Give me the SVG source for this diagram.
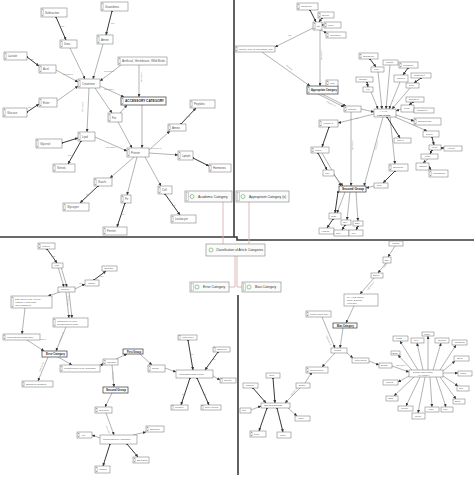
<svg xmlns="http://www.w3.org/2000/svg" width="474" height="479" viewBox="0 0 474 479">
<defs>
<marker id="a" viewBox="0 0 4 4" refX="4" refY="2" markerWidth="3" markerHeight="3" markerUnits="userSpaceOnUse" orient="auto"><path d="M0,0L4,2L0,4z" fill="#333"/></marker>
<marker id="d" viewBox="0 0 4 4" refX="2" refY="2" markerWidth="2.2" markerHeight="2.2" markerUnits="userSpaceOnUse"><circle cx="2" cy="2" r="1.8" fill="#222"/></marker>
<style>
.n rect.b{fill:#fff;stroke:#7a7a7a;stroke-width:0.55}
.n rect.i{fill:none;stroke:#999;stroke-width:0.35}
.n text{font-family:"Liberation Sans",Arial,sans-serif;font-size:2.8px;fill:#555}
.n.s text{font-size:2.4px}
.n.k rect.b{stroke:#444;stroke-width:0.75}
.n.k text{font-weight:bold;fill:#222;font-size:3px}
.e line{stroke:#555;stroke-width:0.45;marker-end:url(#a)}
.e line.t{stroke:#222;stroke-width:0.9;marker-start:url(#d)}
.e text{font-family:"Liberation Sans",Arial,sans-serif;font-size:2px;fill:#888}
.dv{stroke:#3a3a3a;stroke-width:1.6;fill:none}
.c rect.b{fill:#fbfbfb;stroke:#8a8a8a;stroke-width:0.65}
.c rect.i{fill:none;stroke:#999;stroke-width:0.4}
.c circle{fill:none;stroke:#5a5;stroke-width:0.6}
.c text{font-family:"Liberation Sans",Arial,sans-serif;font-size:3.4px;fill:#333}
.p line,.p polyline{stroke:#d9b2b2;stroke-width:0.9;fill:none}
</style>
</defs>
<rect width="474" height="479" fill="#fff"/>

<g id="dividers">
<path class="dv" d="M234,0V237H0"/>
<path class="dv" d="M234,237H237V240H474"/>
<path class="dv" d="M238,295V475"/>
</g>

<g id="connectors">
<g class="p">
<line x1="223" y1="202" x2="223" y2="244"/>
<line x1="249" y1="202" x2="249" y2="244"/>
<polyline points="235,256 235,287 229,287"/>
<polyline points="237,256 237,287 242,287"/>
</g>
<g class="e">
<line class="t" x1="56" y1="17" x2="66" y2="40"/>
<line class="t" x1="112" y1="11" x2="106" y2="35"/>
<line x1="70" y1="48" x2="85" y2="79"/>
<line x1="103" y1="44" x2="93" y2="79"/>
<line class="t" x1="27" y1="57" x2="39" y2="66"/>
<line x1="56" y1="70" x2="78" y2="82"/>
<line x1="121" y1="65" x2="100" y2="81"/>
<line x1="100" y1="86" x2="124" y2="97"/>
<line x1="139" y1="65" x2="139" y2="97"/>
<line x1="95" y1="88" x2="112" y2="113"/>
<line x1="120" y1="113" x2="127" y2="105"/>
<line x1="89" y1="88" x2="87" y2="132"/>
<line x1="57" y1="101" x2="78" y2="86"/>
<line class="t" x1="27" y1="112" x2="39" y2="104"/>
<line x1="95" y1="137" x2="127" y2="151"/>
<line x1="118" y1="122" x2="132" y2="148"/>
<line x1="142" y1="105" x2="142" y2="148"/>
<line class="t" x1="62" y1="143" x2="78" y2="138"/>
<line class="t" x1="81" y1="141" x2="68" y2="164"/>
<line x1="149" y1="150" x2="170" y2="131"/>
<line class="t" x1="181" y1="124" x2="196" y2="108"/>
<line x1="149" y1="153" x2="178" y2="155"/>
<line class="t" x1="193" y1="158" x2="209" y2="166"/>
<line x1="145" y1="157" x2="161" y2="186"/>
<line class="t" x1="165" y1="194" x2="180" y2="215"/>
<line x1="134" y1="157" x2="110" y2="178"/>
<line class="t" x1="98" y1="186" x2="80" y2="203"/>
<line x1="137" y1="157" x2="127" y2="195"/>
<line class="t" x1="125" y1="203" x2="117" y2="227"/>
<text x="61" y="27">has</text><text x="111" y="24">has</text><text x="30" y="60">has</text><text x="28" y="108">has</text>
<text x="68" y="156">has</text><text x="86" y="195">has</text><text x="121" y="215">has</text><text x="187" y="117">has</text>
<text x="198" y="162">x</text><text x="172" y="206">has</text>
<text x="63" y="75">subclass of</text><text x="104" y="72">subclass of</text><text x="104" y="90">subclass of</text>
<text x="83" y="112" transform="rotate(-88 83 112)">subclass of</text><text x="106" y="148">subclass of</text>
<text x="150" y="149">Proportion of</text><text x="142" y="82" transform="rotate(-90 142 82)">subclass of</text>
<line class="t" x1="310" y1="10" x2="316" y2="22"/>
<line class="t" x1="322" y1="18" x2="319" y2="22"/>
<line x1="322" y1="25" x2="324" y2="25"/>
<line x1="320" y1="30" x2="327" y2="33"/>
<line x1="313" y1="28" x2="275" y2="47"/>
<line x1="320" y1="30" x2="320" y2="86"/>
<line x1="262" y1="52" x2="310" y2="86"/>
<line x1="318" y1="94" x2="344" y2="107"/>
<line x1="322" y1="94" x2="346" y2="106"/>
<line x1="361" y1="109" x2="374" y2="112"/>
<line x1="374" y1="114" x2="338" y2="123"/>
<line class="t" x1="329" y1="127" x2="322" y2="147"/>
<line x1="351" y1="112" x2="351" y2="186"/>
<line x1="383" y1="117" x2="364" y2="186"/>
<line x1="322" y1="153" x2="341" y2="186"/>
<line class="t" x1="318" y1="153" x2="327" y2="170"/>
<line x1="334" y1="175" x2="343" y2="186"/>
<line class="t" x1="395" y1="171" x2="383" y2="183"/>
<line x1="374" y1="186" x2="366" y2="188"/>
<line x1="390" y1="117" x2="395" y2="164"/>
<line class="t" x1="429" y1="167" x2="431" y2="170"/>
<line x1="428" y1="159" x2="423" y2="163"/>
<line class="t" x1="370" y1="59" x2="376" y2="67"/>
<line x1="378" y1="72" x2="382" y2="109"/>
<line x1="390" y1="65" x2="386" y2="109"/>
<line class="t" x1="408" y1="68" x2="403" y2="75"/>
<line x1="400" y1="82" x2="389" y2="109"/>
<line class="t" x1="421" y1="78" x2="414" y2="83"/>
<line x1="410" y1="88" x2="392" y2="109"/>
<line class="t" x1="367" y1="82" x2="368" y2="87"/>
<line x1="371" y1="92" x2="378" y2="109"/>
<line class="t" x1="413" y1="102" x2="409" y2="105"/>
<line class="t" x1="420" y1="110" x2="414" y2="109"/>
<line x1="401" y1="109" x2="396" y2="111"/>
<line x1="396" y1="115" x2="414" y2="121"/>
<line x1="395" y1="117" x2="427" y2="131"/>
<line class="t" x1="432" y1="137" x2="434" y2="145"/>
<line class="t" x1="441" y1="148" x2="444" y2="148"/>
<line class="t" x1="432" y1="150" x2="430" y2="154"/>
<line class="t" x1="387" y1="117" x2="400" y2="138"/>
<line class="t" x1="338" y1="192" x2="335" y2="213"/>
<line x1="345" y1="192" x2="337" y2="213"/>
<line x1="350" y1="192" x2="347" y2="220"/>
<line x1="356" y1="192" x2="358" y2="221"/>
<line class="t" x1="333" y1="219" x2="327" y2="228"/>
<line class="t" x1="345" y1="225" x2="342" y2="230"/>
<line class="t" x1="358" y1="226" x2="356" y2="230"/>
<text x="322" y="60" transform="rotate(-90 322 60)">subclass of</text>
<text x="286" y="66" transform="rotate(35 286 66)">Pathway</text>
<text x="288" y="36">has</text>
<text x="326" y="102" transform="rotate(27 326 102)">subclass of</text>
<text x="353" y="150" transform="rotate(-90 353 150)">subclass of</text>
<text x="376" y="150" transform="rotate(-75 376 150)">subclass of</text>
<text x="355" y="119">has</text>
<line class="t" x1="47" y1="249" x2="57" y2="263"/>
<line x1="58" y1="267" x2="64" y2="287"/>
<line x1="61" y1="267" x2="67" y2="287"/>
<line x1="75" y1="289" x2="85" y2="284"/>
<line class="t" x1="94" y1="280" x2="106" y2="271"/>
<line x1="60" y1="292" x2="48" y2="296"/>
<line x1="66" y1="292" x2="69" y2="318"/>
<line x1="69" y1="292" x2="72" y2="318"/>
<line x1="25" y1="308" x2="22" y2="334"/>
<line x1="66" y1="327" x2="56" y2="351"/>
<line x1="27" y1="340" x2="44" y2="351"/>
<line x1="48" y1="357" x2="38" y2="381"/>
<line x1="58" y1="357" x2="72" y2="365"/>
<line x1="100" y1="367" x2="103" y2="363"/>
<line x1="116" y1="359" x2="127" y2="354"/>
<line x1="140" y1="354" x2="152" y2="365"/>
<line x1="112" y1="365" x2="114" y2="387"/>
<line x1="112" y1="393" x2="105" y2="407"/>
<line x1="106" y1="413" x2="114" y2="435"/>
<line x1="100" y1="438" x2="92" y2="435"/>
<line x1="133" y1="435" x2="146" y2="432"/>
<line class="t" x1="110" y1="444" x2="103" y2="466"/>
<line class="t" x1="127" y1="444" x2="138" y2="457"/>
<line x1="165" y1="368" x2="176" y2="372"/>
<line class="t" x1="188" y1="340" x2="193" y2="370"/>
<line class="t" x1="218" y1="352" x2="205" y2="370"/>
<line x1="213" y1="376" x2="220" y2="380"/>
<line class="t" x1="190" y1="378" x2="181" y2="405"/>
<line class="t" x1="197" y1="378" x2="209" y2="405"/>
<text x="52" y="257">has</text><text x="79" y="284">has</text><text x="100" y="277">has</text>
<text x="68" y="306" transform="rotate(-85 68 306)">subclass of</text>
<text x="36" y="340">subclass of</text><text x="60" y="342" transform="rotate(-67 60 342)">subclass of</text>
<text x="40" y="372" transform="rotate(-67 40 372)">subclass of</text><text x="113" y="380" transform="rotate(-85 113 380)">subclass</text>
<text x="106" y="426" transform="rotate(70 106 426)">subclass of</text>
<text x="190" y="355">has</text><text x="212" y="360">has</text><text x="182" y="395">has</text><text x="203" y="395">has</text>
<line x1="395" y1="246" x2="388" y2="257"/>
<line x1="386" y1="263" x2="378" y2="273"/>
<line x1="374" y1="278" x2="360" y2="294"/>
<line x1="354" y1="306" x2="346" y2="323"/>
<line x1="322" y1="317" x2="335" y2="348"/>
<line x1="343" y1="328" x2="340" y2="348"/>
<line x1="335" y1="353" x2="322" y2="367"/>
<line x1="347" y1="353" x2="353" y2="358"/>
<line x1="369" y1="361" x2="379" y2="365"/>
<line x1="392" y1="366" x2="409" y2="372"/>
<line x1="418" y1="370" x2="400" y2="341"/>
<line x1="423" y1="370" x2="417" y2="343"/>
<line x1="428" y1="370" x2="428" y2="336"/>
<line x1="433" y1="370" x2="441" y2="343"/>
<line x1="440" y1="370" x2="456" y2="345"/>
<line x1="412" y1="370" x2="398" y2="355"/>
<line x1="443" y1="371" x2="455" y2="361"/>
<line x1="443" y1="373" x2="458" y2="373"/>
<line x1="443" y1="376" x2="458" y2="386"/>
<line x1="409" y1="376" x2="398" y2="382"/>
<line x1="414" y1="377" x2="394" y2="396"/>
<line x1="440" y1="377" x2="456" y2="399"/>
<line x1="420" y1="377" x2="406" y2="406"/>
<line x1="425" y1="377" x2="418" y2="413"/>
<line x1="430" y1="377" x2="432" y2="407"/>
<line x1="436" y1="377" x2="446" y2="407"/>
<line class="t" x1="273" y1="378" x2="275" y2="403"/>
<line class="t" x1="253" y1="388" x2="266" y2="403"/>
<line x1="300" y1="388" x2="285" y2="403"/>
<line x1="251" y1="410" x2="261" y2="406"/>
<line class="t" x1="267" y1="408" x2="259" y2="431"/>
<line class="t" x1="277" y1="408" x2="283" y2="432"/>
<line x1="288" y1="408" x2="297" y2="416"/>
<line x1="305" y1="383" x2="312" y2="372"/>
<text x="384" y="268" transform="rotate(-55 384 268)">subclass of</text>
<text x="368" y="290" transform="rotate(-50 368 290)">subclass of</text>
<text x="326" y="336" transform="rotate(67 326 336)">subclass of</text>
<text x="396" y="366">subclass of</text>
<text x="291" y="396" transform="rotate(-48 291 396)">subclass of</text>
</g>
</g>

<g id="academic" class="c"><rect class="b" x="185" y="191" width="47" height="11"/><rect class="i" x="186.2" y="192.2" width="2" height="8.6"/><circle cx="192" cy="196.5" r="2"/><text x="198" y="197.8">Academic Category</text></g>
<g id="appropriate" class="c"><rect class="b" x="236" y="191" width="53" height="11"/><rect class="i" x="237.2" y="192.2" width="2" height="8.6"/><circle cx="243" cy="196.5" r="2"/><text x="249" y="197.8">Appropriate Category (x)</text></g>
<g id="classification" class="c"><rect class="b" x="206" y="244" width="59" height="12"/><circle cx="211" cy="250" r="2"/><text x="216" y="251.3" textLength="47" lengthAdjust="spacingAndGlyphs">Classification of Article Categories</text></g>
<g id="error" class="c"><rect class="b" x="190" y="282" width="39" height="10"/><rect class="i" x="191.2" y="283.2" width="2" height="7.6"/><circle cx="197" cy="287" r="2"/><text x="203" y="288.3">Error Category</text></g>
<g id="bias" class="c"><rect class="b" x="242" y="282" width="39" height="10"/><rect class="i" x="243.2" y="283.2" width="2" height="7.6"/><circle cx="249" cy="287" r="2"/><text x="255" y="288.3">Bias Category</text></g>

<g id="n1" class="n"><rect class="b" x="41" y="8" width="26" height="9"/><rect class="i" x="42" y="9" width="1.8" height="7"/><text x="45" y="13.5">Subtraction</text></g>
<g id="n2" class="n"><rect class="b" x="101" y="2" width="27" height="9"/><rect class="i" x="102" y="3" width="1.8" height="7"/><text x="105" y="7.5">Guanidines</text></g>
<g id="n3" class="n"><rect class="b" x="60" y="40" width="17" height="8"/><rect class="i" x="61" y="41" width="1.8" height="6"/><text x="64" y="45">Urea</text></g>
<g id="n4" class="n"><rect class="b" x="97" y="35" width="16" height="9"/><rect class="i" x="98" y="36" width="1.8" height="7"/><text x="101" y="40.5">Amine</text></g>
<g id="n5" class="n"><rect class="b" x="4" y="52" width="23" height="8"/><rect class="i" x="5" y="53" width="1.8" height="6"/><text x="8" y="57">Lactate</text></g>
<g id="n6" class="n"><rect class="b" x="39" y="65" width="17" height="8"/><rect class="i" x="40" y="66" width="1.8" height="6"/><text x="43" y="70">Acid</text></g>
<g id="n7" class="n"><rect class="b" x="78" y="79" width="22" height="9"/><rect class="i" x="79" y="80" width="1.8" height="7"/><text x="82" y="84.5">Creatinine</text></g>
<g id="n8" class="n"><rect class="b" x="118" y="57" width="49" height="8"/><rect class="i" x="119" y="58" width="1.8" height="6"/><text x="122" y="62" textLength="43" lengthAdjust="spacingAndGlyphs">Artificial, Vertebrate, Wild Birds</text></g>
<g id="n9" class="n k"><rect class="b" x="121" y="97" width="45" height="8"/><rect class="i" x="122" y="98" width="1.8" height="6"/><text x="125" y="102.2" textLength="39" lengthAdjust="spacingAndGlyphs">ACCESSORY CATEGORY</text></g>
<g id="n10" class="n"><rect class="b" x="39" y="98" width="18" height="9"/><rect class="i" x="40" y="99" width="1.8" height="7"/><text x="43" y="103.5">Ester</text></g>
<g id="n11" class="n"><rect class="b" x="3" y="108" width="24" height="9"/><rect class="i" x="4" y="109" width="1.8" height="7"/><text x="7" y="113.5">Glucose</text></g>
<g id="n12" class="n"><rect class="b" x="108" y="113" width="14" height="9"/><rect class="i" x="109" y="114" width="1.8" height="7"/><text x="112" y="118.5">Fat</text></g>
<g id="n13" class="n"><rect class="b" x="78" y="132" width="17" height="9"/><rect class="i" x="79" y="133" width="1.8" height="7"/><text x="82" y="137.5">Lipid</text></g>
<g id="n14" class="n"><rect class="b" x="36" y="139" width="26" height="9"/><rect class="i" x="37" y="140" width="1.8" height="7"/><text x="40" y="144.5">Glycerol</text></g>
<g id="n15" class="n"><rect class="b" x="127" y="148" width="22" height="9"/><rect class="i" x="128" y="149" width="1.8" height="7"/><text x="131" y="153.5">Protein</text></g>
<g id="n16" class="n"><rect class="b" x="190" y="100" width="25" height="8"/><rect class="i" x="191" y="101" width="1.8" height="6"/><text x="194" y="105">Peptides</text></g>
<g id="n17" class="n"><rect class="b" x="168" y="124" width="18" height="7"/><rect class="i" x="169" y="125" width="1.8" height="5"/><text x="172" y="128.6">Amino</text></g>
<g id="n18" class="n"><rect class="b" x="178" y="151" width="15" height="9"/><rect class="i" x="179" y="152" width="1.8" height="7"/><text x="182" y="156.5">Lymph</text></g>
<g id="n19" class="n"><rect class="b" x="209" y="164" width="22" height="8"/><rect class="i" x="210" y="165" width="1.8" height="6"/><text x="213" y="169">Hormones</text></g>
<g id="n20" class="n"><rect class="b" x="158" y="186" width="14" height="8"/><rect class="i" x="159" y="187" width="1.8" height="6"/><text x="162" y="191">Cell</text></g>
<g id="n21" class="n"><rect class="b" x="171" y="215" width="25" height="8"/><rect class="i" x="172" y="216" width="1.8" height="6"/><text x="175" y="220">Leukocyte</text></g>
<g id="n22" class="n"><rect class="b" x="53" y="164" width="22" height="8"/><rect class="i" x="54" y="165" width="1.8" height="6"/><text x="57" y="169">Sterols</text></g>
<g id="n23" class="n"><rect class="b" x="94" y="178" width="18" height="8"/><rect class="i" x="95" y="179" width="1.8" height="6"/><text x="98" y="183">Starch</text></g>
<g id="n24" class="n"><rect class="b" x="63" y="203" width="26" height="8"/><rect class="i" x="64" y="204" width="1.8" height="6"/><text x="67" y="208">Glycogen</text></g>
<g id="n25" class="n"><rect class="b" x="121" y="195" width="10" height="8"/><rect class="i" x="122" y="196" width="1.8" height="6"/><text x="125" y="200">Fe</text></g>
<g id="n26" class="n"><rect class="b" x="103" y="227" width="24" height="8"/><rect class="i" x="104" y="228" width="1.8" height="6"/><text x="107" y="232">Ferritin</text></g>

<g id="m1" class="n s"><rect class="b" x="297" y="3" width="21" height="7"/><rect class="i" x="298" y="4" width="1.6" height="5"/><text x="301" y="7.4">Creatinine</text></g>
<g id="m2" class="n s"><rect class="b" x="318" y="12" width="16" height="6"/><rect class="i" x="319" y="13" width="1.6" height="4"/><text x="322" y="16">Serum</text></g>
<g id="m3" class="n s"><rect class="b" x="313" y="22" width="9" height="8"/><rect class="i" x="314" y="23" width="1.6" height="6"/><text x="316.5" y="27">Tst</text></g>
<g id="m4" class="n s"><rect class="b" x="324" y="22" width="17" height="6"/><rect class="i" x="325" y="23" width="1.6" height="4"/><text x="328" y="26">Urine</text></g>
<g id="m5" class="n s"><rect class="b" x="326" y="32" width="20" height="6"/><rect class="i" x="327" y="33" width="1.6" height="4"/><text x="330" y="36">Clearance</text></g>
<g id="m6" class="n s"><rect class="b" x="235" y="46" width="40" height="6"/><rect class="i" x="236" y="47" width="1.6" height="4"/><text x="239" y="50" textLength="34" lengthAdjust="spacingAndGlyphs">Cancer GWAS Integration (LD)</text></g>
<g id="m7" class="n k"><rect class="b" x="307" y="86" width="31" height="8"/><rect class="i" x="308" y="87" width="1.6" height="6"/><text x="311" y="91.2" textLength="26" lengthAdjust="spacingAndGlyphs">Appropriate Category</text></g>
<g id="m8" class="n s"><rect class="b" x="326" y="80" width="12" height="6"/><rect class="i" x="327" y="81" width="1.6" height="4"/><text x="330" y="84">Test</text></g>
<g id="m9" class="n s"><rect class="b" x="344" y="106" width="17" height="6"/><rect class="i" x="345" y="107" width="1.6" height="4"/><text x="348" y="110">Results</text></g>
<g id="m10" class="n s"><rect class="b" x="374" y="109" width="22" height="8"/><text x="380" y="112.2">A F Vit</text><text x="377" y="115.6" style="font-weight:bold;fill:#333">Fruit Group</text></g>
<g id="m11" class="n s"><rect class="b" x="319" y="120" width="19" height="7"/><rect class="i" x="320" y="121" width="1.6" height="5"/><text x="323" y="124.4">Vitamin C</text></g>
<g id="m12" class="n s"><rect class="b" x="311" y="147" width="18" height="6"/><rect class="i" x="312" y="148" width="1.6" height="4"/><text x="315" y="151">Citrus</text></g>
<g id="r1" class="n s"><rect class="b" x="359" y="53" width="19" height="6"/><rect class="i" x="360" y="54" width="1.6" height="4"/><text x="363" y="57">Strawberry</text></g>
<g id="r2" class="n s"><rect class="b" x="371" y="67" width="13" height="5"/><text x="374" y="70.4">Kiwi</text></g>
<g id="r3" class="n s"><rect class="b" x="383" y="60" width="15" height="5"/><text x="386" y="63.4">Mango</text></g>
<g id="r4" class="n s"><rect class="b" x="399" y="62" width="19" height="6"/><rect class="i" x="400" y="63" width="1.6" height="4"/><text x="403" y="66">Pineapple</text></g>
<g id="r5" class="n s"><rect class="b" x="394" y="75" width="14" height="7"/><text x="397" y="79.4">Papaya</text></g>
<g id="r6" class="n s"><rect class="b" x="411" y="73" width="20" height="5"/><text x="414" y="76.4">Grapefruit</text></g>
<g id="r7" class="n s"><rect class="b" x="406" y="83" width="13" height="5"/><text x="409" y="86.4">Lime</text></g>
<g id="r8" class="n s"><rect class="b" x="356" y="77" width="17" height="5"/><text x="359" y="80.4">Orange</text></g>
<g id="r9" class="n s"><rect class="b" x="363" y="87" width="10" height="5"/><text x="366" y="90.4">Fig</text></g>
<g id="r10" class="n s"><rect class="b" x="406" y="97" width="18" height="5"/><text x="409" y="100.4">Blueberry</text></g>
<g id="r11" class="n s"><rect class="b" x="401" y="105" width="13" height="7"/><text x="404" y="109.4">Plum</text></g>
<g id="r12" class="n s"><rect class="b" x="414" y="108" width="20" height="5"/><text x="417" y="111.4">Cranberry</text></g>
<g id="r13" class="n s"><rect class="b" x="414" y="118" width="27" height="7"/><rect class="i" x="415" y="119" width="1.6" height="5"/><text x="418" y="122.4">Blackcurrant</text></g>
<g id="r14" class="n s"><rect class="b" x="423" y="131" width="16" height="6"/><text x="426" y="135">Melon</text></g>
<g id="r15" class="n s"><rect class="b" x="394" y="138" width="17" height="5"/><text x="397" y="141.4">Cherry</text></g>
<g id="r16" class="n s"><rect class="b" x="429" y="145" width="12" height="5"/><text x="432" y="148.4">Pear</text></g>
<g id="r17" class="n s"><rect class="b" x="444" y="146" width="18" height="5"/><text x="447" y="149.4">Apricot</text></g>
<g id="r18" class="n s"><rect class="b" x="421" y="154" width="17" height="5"/><text x="424" y="157.4">Apple</text></g>
<g id="u1" class="n s"><rect class="b" x="323" y="170" width="11" height="6"/><text x="325" y="174">Iron</text></g>
<g id="u2" class="n s"><rect class="b" x="374" y="183" width="14" height="5"/><text x="377" y="186.4">Zinc</text></g>
<g id="u3" class="n s"><rect class="b" x="389" y="164" width="19" height="7"/><rect class="i" x="390" y="165" width="1.6" height="5"/><text x="393" y="168.4">Selenium</text></g>
<g id="u4" class="n s"><rect class="b" x="416" y="163" width="13" height="7"/><text x="419" y="167.4">Copper</text></g>
<g id="u5" class="n s"><rect class="b" x="429" y="170" width="19" height="7"/><rect class="i" x="430" y="171" width="1.6" height="5"/><text x="433" y="174.4">Manganese</text></g>
<g id="m13" class="n k"><rect class="b" x="339" y="186" width="27" height="6"/><text x="342" y="190.2" textLength="22" lengthAdjust="spacingAndGlyphs">Second Group</text></g>
<g id="v1" class="n s"><rect class="b" x="329" y="213" width="12" height="6"/><text x="331" y="217">Nuts</text></g>
<g id="v2" class="n s"><rect class="b" x="341" y="220" width="10" height="5"/><text x="343" y="223.4">Soy</text></g>
<g id="v3" class="n s"><rect class="b" x="353" y="221" width="10" height="5"/><text x="355" y="224.4">Egg</text></g>
<g id="v4" class="n s"><rect class="b" x="319" y="228" width="15" height="6"/><text x="321" y="232">Almond</text></g>
<g id="v5" class="n s"><rect class="b" x="334" y="230" width="15" height="6"/><text x="336" y="234">Tofu</text></g>
<g id="v6" class="n s"><rect class="b" x="349" y="230" width="14" height="6"/><text x="351" y="234">Yolk</text></g>

<g id="b1" class="n s"><rect class="b" x="38" y="243" width="17" height="6"/><rect class="i" x="39" y="244" width="1.6" height="4"/><text x="42" y="247">Lettuce</text></g>
<g id="b2" class="n s"><rect class="b" x="52" y="263" width="11" height="5"/><text x="54.5" y="266.4">Kale</text></g>
<g id="b3" class="n s"><rect class="b" x="102" y="266" width="15" height="5"/><text x="104.5" y="269.4">Spinach</text></g>
<g id="b4" class="n s"><rect class="b" x="85" y="280" width="14" height="6"/><text x="88" y="284">Chard</text></g>
<g id="b5" class="n s"><rect class="b" x="58" y="287" width="17" height="5"/><text x="61" y="290.4">Greens</text></g>
<g id="b6" class="n s"><rect class="b" x="11" y="296" width="41" height="12"/><rect class="i" x="12" y="297" width="1.6" height="10"/><text x="15" y="299.8">Dark green leafy veg for</text><text x="15" y="302.8">Vitamin K and folate</text><text x="15" y="305.8">(see subgroup)</text></g>
<g id="b7" class="n s"><rect class="b" x="53" y="318" width="35" height="9"/><rect class="i" x="54" y="319" width="1.6" height="7"/><text x="57" y="321.8">Categories of error</text><text x="57" y="325">measurement (bias)</text></g>
<g id="b8" class="n s"><rect class="b" x="3" y="334" width="37" height="6"/><rect class="i" x="4" y="335" width="1.6" height="4"/><text x="7" y="338">Unmeasured confounder</text></g>
<g id="b9" class="n k"><rect class="b" x="42" y="351" width="25" height="6"/><text x="46" y="355.2" textLength="19" lengthAdjust="spacingAndGlyphs">Error Category</text></g>
<g id="b10" class="n s"><rect class="b" x="60" y="365" width="40" height="7"/><rect class="i" x="61" y="366" width="1.6" height="5"/><text x="64" y="369.4">Measurement error (misclass)</text></g>
<g id="b11" class="n s"><rect class="b" x="22" y="381" width="31" height="6"/><rect class="i" x="23" y="382" width="1.6" height="4"/><text x="26" y="385">Sampling variability</text></g>
<g id="b12" class="n s"><rect class="b" x="103" y="359" width="15" height="6"/><rect class="i" x="104" y="360" width="1.6" height="4"/><text x="107" y="363">Random</text></g>
<g id="b13" class="n k"><rect class="b" x="123" y="349" width="20" height="5"/><text x="127" y="352.8" textLength="14" lengthAdjust="spacingAndGlyphs">First Group</text></g>
<g id="b14" class="n s"><rect class="b" x="148" y="365" width="17" height="7"/><rect class="i" x="149" y="366" width="1.6" height="5"/><text x="152" y="369.4">Recall</text></g>
<g id="b15" class="n k"><rect class="b" x="103" y="387" width="25" height="6"/><text x="106" y="391.2" textLength="20" lengthAdjust="spacingAndGlyphs">Second Group</text></g>
<g id="b16" class="n s"><rect class="b" x="95" y="407" width="17" height="6"/><rect class="i" x="96" y="408" width="1.6" height="4"/><text x="99" y="411">Selection</text></g>
<g id="b17" class="n s"><rect class="b" x="100" y="435" width="37" height="9"/><text x="103" y="440.4">Confounding by indication</text></g>
<g id="b18" class="n s"><rect class="b" x="77" y="432" width="15" height="6"/><rect class="i" x="78" y="433" width="1.6" height="4"/><text x="81" y="436">Age</text></g>
<g id="b19" class="n s"><rect class="b" x="146" y="426" width="18" height="6"/><rect class="i" x="147" y="427" width="1.6" height="4"/><text x="150" y="430">Smoking</text></g>
<g id="b20" class="n s"><rect class="b" x="95" y="466" width="15" height="7"/><rect class="i" x="96" y="467" width="1.6" height="5"/><text x="99" y="470.4">Income</text></g>
<g id="b21" class="n s"><rect class="b" x="133" y="457" width="16" height="6"/><rect class="i" x="134" y="458" width="1.6" height="4"/><text x="137" y="461">Education</text></g>
<g id="c1" class="n s"><rect class="b" x="178" y="335" width="19" height="5"/><rect class="i" x="179" y="335.8" width="1.6" height="3.4"/><text x="182" y="338.4">Interviewer</text></g>
<g id="c2" class="n s"><rect class="b" x="213" y="347" width="17" height="5"/><rect class="i" x="214" y="347.8" width="1.6" height="3.4"/><text x="217" y="350.4">Observer</text></g>
<g id="c4" class="n s"><rect class="b" x="176" y="370" width="37" height="8"/><text x="179" y="374.9">Information bias (recall)</text></g>
<g id="c5" class="n s"><rect class="b" x="220" y="378" width="16" height="5"/><rect class="i" x="221" y="378.8" width="1.6" height="3.4"/><text x="224" y="381.4">Report</text></g>
<g id="c6" class="n s"><rect class="b" x="171" y="405" width="17" height="5"/><rect class="i" x="172" y="405.8" width="1.6" height="3.4"/><text x="175" y="408.4">Memory</text></g>
<g id="c7" class="n s"><rect class="b" x="201" y="405" width="20" height="5"/><rect class="i" x="202" y="405.8" width="1.6" height="3.4"/><text x="205" y="408.4">Diary record</text></g>

<g id="d1" class="n s"><rect class="b" x="389" y="241" width="14" height="5"/><text x="392" y="244.4">Wheat</text></g>
<g id="d2" class="n s"><rect class="b" x="383" y="257" width="8" height="6"/><text x="384.5" y="261">Oat</text></g>
<g id="d3" class="n s"><rect class="b" x="371" y="273" width="12" height="5"/><text x="373" y="276.4">Barley</text></g>
<g id="d4" class="n s"><rect class="b" x="344" y="294" width="34" height="12"/><text x="347" y="298">Fe, Vit B (whole</text><text x="347" y="301">grain, B-group</text><text x="347" y="304">(cereals))</text></g>
<g id="d5" class="n s"><rect class="b" x="306" y="311" width="25" height="6"/><rect class="i" x="307" y="312" width="1.6" height="4"/><text x="310" y="315">Whole Grain RDA</text></g>
<g id="d6" class="n k"><rect class="b" x="333" y="323" width="24" height="5"/><text x="337" y="326.8" textLength="17" lengthAdjust="spacingAndGlyphs">Bias Category</text></g>
<g id="d7" class="n s"><rect class="b" x="331" y="348" width="16" height="5"/><text x="334" y="351.4">Grains</text></g>
<g id="d8" class="n s"><rect class="b" x="306" y="367" width="22" height="6"/><rect class="i" x="307" y="368" width="1.6" height="4"/><text x="310" y="371">Refined flour</text></g>
<g id="d9" class="n s"><rect class="b" x="352" y="358" width="17" height="5"/><text x="355" y="361.4">Rice group</text></g>
<g id="d10" class="n s"><rect class="b" x="379" y="363" width="13" height="5"/><text x="381" y="366.4">Bread</text></g>
<g id="d11" class="n s"><rect class="b" x="409" y="370" width="34" height="7"/><text x="413" y="373">Dietary fibre intake</text><text x="418" y="376">(% energy)</text></g>
<g id="s1" class="n s"><rect class="b" x="393" y="336" width="15" height="5"/><text x="396" y="339.4">Pasta</text></g>
<g id="s2" class="n s"><rect class="b" x="411" y="338" width="13" height="5"/><text x="414" y="341.4">Rye</text></g>
<g id="s3" class="n s"><rect class="b" x="422" y="332" width="12" height="4"/><text x="424" y="335">Millet</text></g>
<g id="s4" class="n s"><rect class="b" x="435" y="338" width="14" height="5"/><text x="438" y="341.4">Quinoa</text></g>
<g id="s5" class="n s"><rect class="b" x="452" y="340" width="15" height="5"/><text x="455" y="343.4">Sorghum</text></g>
<g id="s6" class="n s"><rect class="b" x="391" y="351" width="9" height="4"/><text x="392.5" y="354">Bran</text></g>
<g id="s7" class="n s"><rect class="b" x="454" y="356" width="15" height="5"/><text x="457" y="359.4">Spelt</text></g>
<g id="s8" class="n s"><rect class="b" x="458" y="371" width="14" height="5"/><text x="460" y="374.4">Maize</text></g>
<g id="s9" class="n s"><rect class="b" x="457" y="386" width="12" height="5"/><text x="459" y="389.4">Teff</text></g>
<g id="s10" class="n s"><rect class="b" x="383" y="380" width="15" height="5"/><text x="386" y="383.4">Cereal</text></g>
<g id="s11" class="n s"><rect class="b" x="386" y="396" width="12" height="5"/><text x="388" y="399.4">Oats</text></g>
<g id="s12" class="n s"><rect class="b" x="453" y="399" width="12" height="5"/><text x="455" y="402.4">Buck</text></g>
<g id="s13" class="n s"><rect class="b" x="398" y="406" width="15" height="5"/><text x="401" y="409.4">Muesli</text></g>
<g id="s14" class="n s"><rect class="b" x="412" y="413" width="13" height="6"/><text x="415" y="417">Germ</text></g>
<g id="s15" class="n s"><rect class="b" x="425" y="407" width="14" height="5"/><text x="428" y="410.4">Husk</text></g>
<g id="s16" class="n s"><rect class="b" x="441" y="407" width="12" height="5"/><text x="443" y="410.4">Flax</text></g>
<g id="e1" class="n s"><rect class="b" x="266" y="373" width="14" height="5"/><text x="269" y="376.4">Olive</text></g>
<g id="e2" class="n s"><rect class="b" x="243" y="383" width="15" height="5"/><text x="246" y="386.4">Canola</text></g>
<g id="e3" class="n s"><rect class="b" x="261" y="403" width="29" height="5"/><text x="264" y="406.4">Oils and spreads</text></g>
<g id="e4" class="n s"><rect class="b" x="240" y="408" width="11" height="5"/><text x="242" y="411.4">Nut</text></g>
<g id="e5" class="n s"><rect class="b" x="296" y="383" width="14" height="5"/><text x="299" y="386.4">Butter</text></g>
<g id="e7" class="n s"><rect class="b" x="250" y="431" width="16" height="6"/><rect class="i" x="251" y="432" width="1.6" height="4"/><text x="254" y="435">Lard</text></g>
<g id="e8" class="n s"><rect class="b" x="277" y="432" width="14" height="6"/><text x="280" y="436">Ghee</text></g>
<g id="e9" class="n s"><rect class="b" x="295" y="416" width="15" height="5"/><text x="298" y="419.4">Marg</text></g>
</svg>
